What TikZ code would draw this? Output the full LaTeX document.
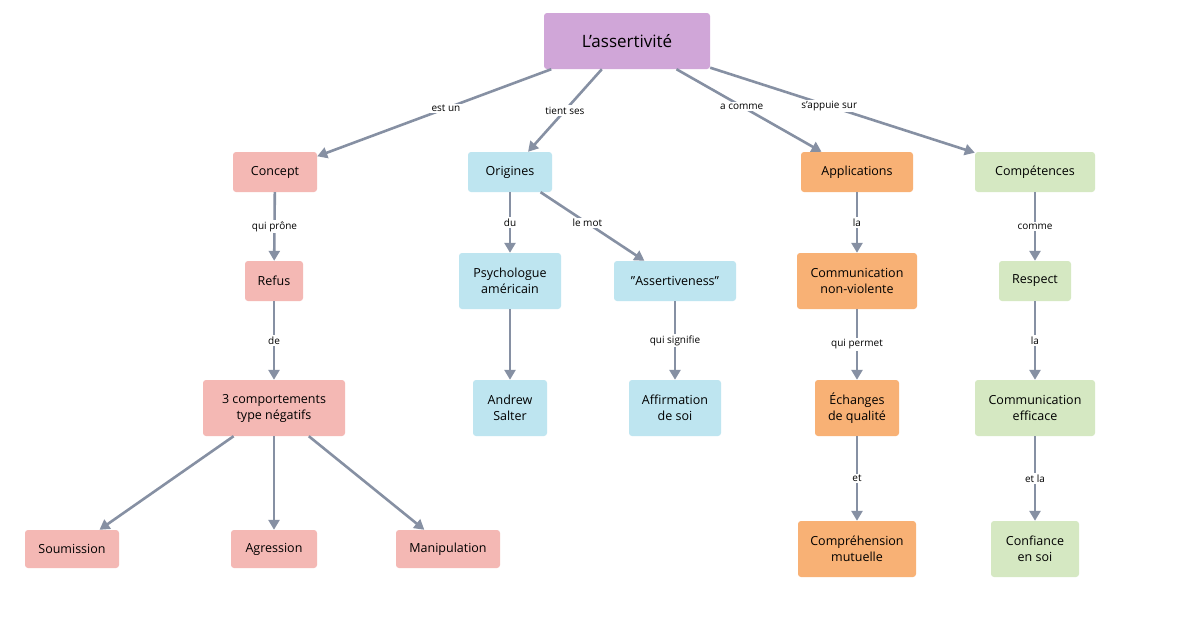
\documentclass[tikz,border=0pt]{standalone}
\usepackage{fontspec}
\setmainfont{Open Sans}
\usetikzlibrary{arrows.meta}
\definecolor{pk}{HTML}{F4B8B4}
\definecolor{bl}{HTML}{BEE5F0}
\definecolor{og}{HTML}{F8B175}
\definecolor{gr}{HTML}{D5E8C2}
\definecolor{pu}{HTML}{D0A6D8}
\definecolor{ln}{HTML}{8690A3}
\begin{document}
\begin{tikzpicture}[x=1pt,y=-1pt,
 box/.style={rounded corners=3pt,align=center,inner sep=0pt,font=\fontsize{12.5}{16}\selectfont},
 ar/.style={draw=ln,line width=2.6pt,-{Triangle[length=10pt,width=11pt]}},
 lb/.style={fill=white,inner sep=1.5pt,font=\fontsize{10}{12}\selectfont}]
\useasboundingbox[fill=white] (0,0) rectangle (1200,630);
\node[box,fill=pu,minimum width=166pt,minimum height=56pt,font=\fontsize{17}{20}\selectfont] (root) at (627,41) {L'assertivité};
\node[box,fill=pk,minimum width=84pt,minimum height=40pt] (concept) at (275,172) {Concept};
\node[box,fill=bl,minimum width=84pt,minimum height=40pt] (orig) at (510,172) {Origines};
\node[box,fill=og,minimum width=112pt,minimum height=40pt] (app) at (857,172) {Applications};
\node[box,fill=gr,minimum width=120pt,minimum height=40pt] (comp) at (1035,172) {Compétences};
\node[box,fill=pk,minimum width=58pt,minimum height=40pt] (refus) at (274,281) {Refus};
\node[box,fill=bl,minimum width=102pt,minimum height=56pt] (psy) at (510,281) {Psychologue\\américain};
\node[box,fill=bl,minimum width=122pt,minimum height=40pt] (ass) at (675,281) {"Assertiveness"};
\node[box,fill=og,minimum width=120pt,minimum height=56pt] (cnv) at (857,281) {Communication\\non-violente};
\node[box,fill=gr,minimum width=72pt,minimum height=40pt] (resp) at (1035,281) {Respect};
\node[box,fill=pk,minimum width=142pt,minimum height=56pt] (trois) at (274,408) {3 comportements\\type négatifs};
\node[box,fill=bl,minimum width=74pt,minimum height=56pt] (andrew) at (510,408) {Andrew\\Salter};
\node[box,fill=bl,minimum width=92pt,minimum height=56pt] (affi) at (675,408) {Affirmation\\de soi};
\node[box,fill=og,minimum width=84pt,minimum height=56pt] (ech) at (857,408) {Échanges\\de qualité};
\node[box,fill=gr,minimum width=120pt,minimum height=56pt] (ceff) at (1035,408) {Communication\\efficace};
\node[box,fill=pk,minimum width=94pt,minimum height=38pt] (soum) at (72,549) {Soumission};
\node[box,fill=pk,minimum width=86pt,minimum height=38pt] (agr) at (274,549) {Agression};
\node[box,fill=pk,minimum width=104pt,minimum height=38pt] (man) at (448,549) {Manipulation};
\node[box,fill=og,minimum width=118pt,minimum height=56pt] (compr) at (857,549) {Compréhension\\mutuelle};
\node[box,fill=gr,minimum width=88pt,minimum height=56pt] (conf) at (1035,549) {Confiance\\en soi};
\draw[ar] (root) -- node[lb,pos=0.45]{est un} (concept);
\draw[ar] (root) -- node[lb,pos=0.5]{tient ses} (orig);
\draw[ar] (root) -- node[lb,pos=0.45]{a comme} (app);
\draw[ar] (root) -- node[lb,pos=0.45]{s'appuie sur} (comp);
\draw[ar] (concept) -- node[lb]{qui prône} (refus);
\draw[ar] (refus) -- node[lb]{de} (trois);
\draw[ar] (orig) -- node[lb]{du} (psy);
\draw[ar] (orig) -- node[lb,pos=0.45]{le mot} (ass);
\draw[ar] (psy) -- (andrew);
\draw[ar] (ass) -- node[lb]{qui signifie} (affi);
\draw[ar] (app) -- node[lb]{la} (cnv);
\draw[ar] (cnv) -- node[lb]{qui permet} (ech);
\draw[ar] (ech) -- node[lb]{et} (compr);
\draw[ar] (comp) -- node[lb]{comme} (resp);
\draw[ar] (resp) -- node[lb]{la} (ceff);
\draw[ar] (ceff) -- node[lb]{et la} (conf);
\draw[ar] (trois) -- (soum);
\draw[ar] (trois) -- (agr);
\draw[ar] (trois) -- (man);
\end{tikzpicture}
\end{document}
